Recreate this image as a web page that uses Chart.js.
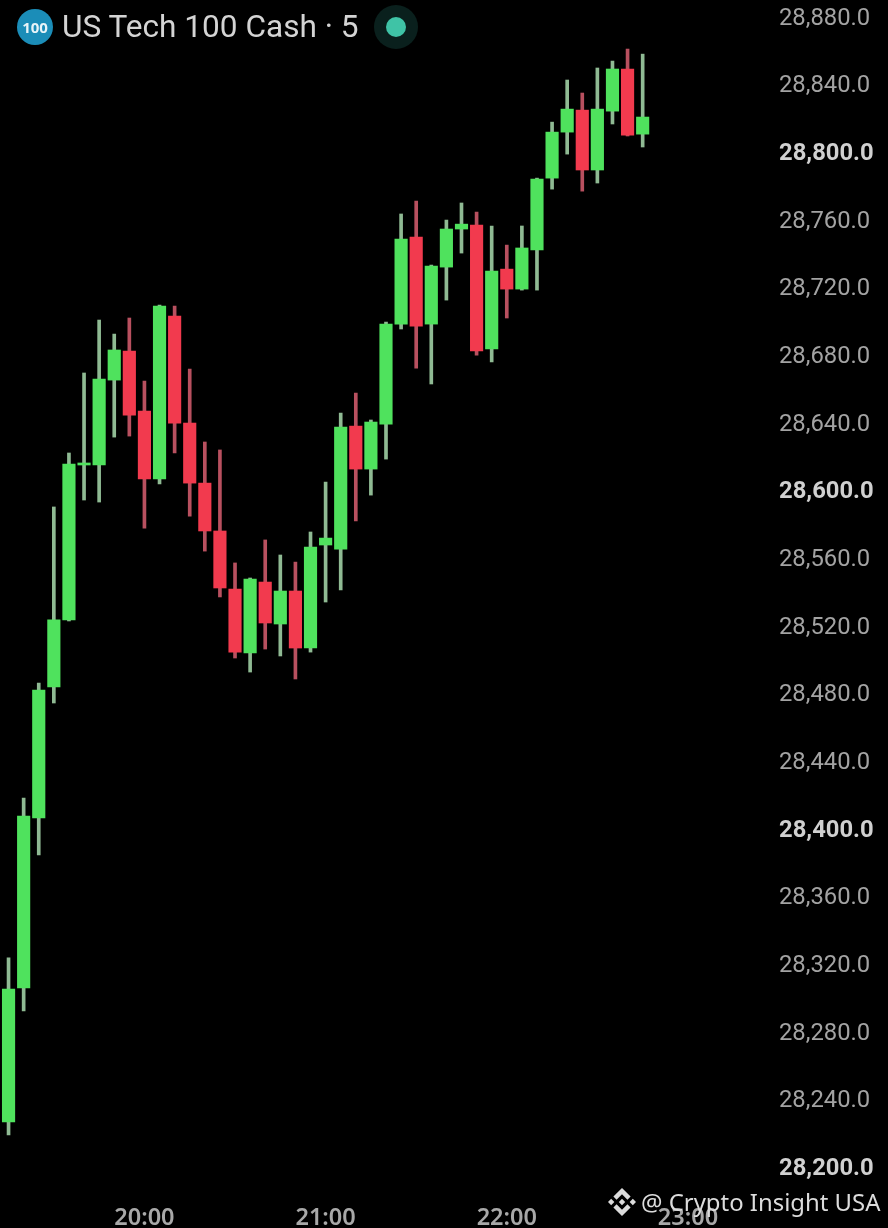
<!DOCTYPE html>
<html>
<head>
<meta charset="utf-8">
<title>US Tech 100 Cash</title>
<script src="https://cdn.jsdelivr.net/npm/chart.js@4"></script>
<style>
  html, body { margin: 0; padding: 0; background: #000; }
  body { position: relative; width: 888px; height: 1228px; overflow: hidden; }
  canvas { position: absolute; left: 0; top: 0; }
  .logo { position: absolute; left: 17px; top: 9px; width: 36px; height: 36px; border-radius: 50%; background: #1b8db8;
    color: #e8f4f8; font: bold 15px/36px "Noto Sans"; text-align: center; }
  .title { position: absolute; left: 62px; top: 8px; color: #d4d4d4; font: 31.6px/38px Roboto; white-space: nowrap; }
  .halo { position: absolute; left: 374px; top: 5px; width: 44px; height: 44px; border-radius: 50%; background: #0a201d; }
  .dot { position: absolute; left: 386px; top: 17px; width: 20px; height: 20px; border-radius: 50%; background: #3fc3a6; }
  .mark { position: absolute; left: 608px; top: 1188px; width: 28px; height: 28px; }
  .credit { position: absolute; left: 641px; top: 1186px; color: #dcdcdc; font: 23.9px/32px "Noto Sans"; white-space: nowrap; }
</style>
</head>
<body>
<canvas id="myChart" width="888" height="1228"></canvas>
<div class="logo">100</div>
<div class="title">US Tech 100 Cash · 5</div>
<div class="halo"></div>
<div class="dot"></div>
<svg class="mark" viewBox="0 0 126.61 126.61" fill="#dcdcdc">
  <path d="m38.73 53.2 24.59-24.58 24.6 24.6 14.3-14.31L63.32 0 24.43 38.9l14.3 14.3z"/>
  <path d="m0 63.31 14.3-14.31 14.31 14.31-14.31 14.3z"/>
  <path d="m38.73 73.41 24.59 24.59 24.6-24.6 14.31 14.29-38.9 38.91-38.91-38.88-.02-.02z"/>
  <path d="m98 63.31 14.3-14.31 14.31 14.3-14.31 14.32z"/>
  <path d="m77.83 63.3-14.51-14.52-10.73 10.73-1.24 1.23-2.54 2.54 14.51 14.5 14.51-14.47z"/>
</svg>
<div class="credit">@ Crypto Insight USA</div>

<script>
// 5 minute slots, the last ones are empty space up to the price axis
const labels = [
  "19:15","19:20","19:25","19:30","19:35","19:40","19:45","19:50","19:55",
  "20:00","20:05","20:10","20:15","20:20","20:25","20:30","20:35","20:40","20:45","20:50","20:55",
  "21:00","21:05","21:10","21:15","21:20","21:25","21:30","21:35","21:40","21:45","21:50","21:55",
  "22:00","22:05","22:10","22:15","22:20","22:25","22:30","22:35","22:40","22:45","22:50","22:55",
  "23:00","23:05","23:10","23:15","23:20","23:25"
];

const opens = [
  28226.6, 28305.8, 28406.3, 28483.8, 28523.4, 28615.0, 28615.0, 28665.2, 28682.4, 28646.9,
  28606.7, 28703.1, 28639.8, 28604.3, 28576.0, 28541.7, 28503.9, 28545.8, 28521.0, 28540.5,
  28506.8, 28567.7, 28565.3, 28638.0, 28612.6, 28639.2, 28698.3, 28749.8, 28698.3, 28732.0,
  28754.5, 28756.8, 28683.6, 28730.8, 28719.0, 28742.1, 28784.6, 28811.8, 28824.8, 28789.4,
  28824.2, 28849.1, 28810.6
];
const closes = [
  28305.2, 28407.5, 28482.0, 28523.4, 28615.6, 28616.2, 28665.8, 28683.0, 28644.5, 28606.7,
  28709.0, 28639.8, 28604.3, 28576.0, 28542.3, 28504.4, 28547.6, 28521.6, 28540.5, 28506.8,
  28566.5, 28571.8, 28637.4, 28612.6, 28640.4, 28698.3, 28748.6, 28697.1, 28732.6, 28754.5,
  28757.4, 28682.4, 28729.7, 28719.0, 28743.3, 28784.0, 28811.8, 28825.4, 28789.4, 28825.4,
  28849.1, 28810.0, 28820.7
];
const highs = [
  28323.6, 28418.1, 28486.1, 28590.2, 28622.1, 28669.4, 28700.7, 28692.4, 28701.9, 28664.6,
  28709.6, 28709.0, 28671.7, 28628.6, 28623.9, 28557.1, 28548.2, 28570.7, 28561.8, 28557.6,
  28575.4, 28604.9, 28645.7, 28657.5, 28641.6, 28699.5, 28763.4, 28771.0, 28733.2, 28759.8,
  28769.9, 28764.5, 28756.3, 28745.0, 28756.3, 28784.6, 28817.7, 28842.6, 28834.9, 28849.7,
  28853.8, 28860.9, 28857.9
];
const lows = [
  28218.9, 28292.2, 28384.5, 28474.3, 28522.8, 28594.3, 28593.1, 28631.5, 28632.1, 28577.7,
  28603.8, 28622.1, 28584.8, 28564.1, 28537.0, 28500.9, 28492.6, 28506.2, 28502.1, 28488.5,
  28504.4, 28534.0, 28541.1, 28581.9, 28597.2, 28618.5, 28695.4, 28672.3, 28662.9, 28712.5,
  28740.3, 28680.0, 28675.9, 28701.9, 28718.4, 28718.4, 28778.1, 28798.8, 28776.9, 28781.7,
  28816.6, 28809.5, 28803.0
];

const priceTicks = [
  28200, 28240, 28280, 28320, 28360, 28400, 28440, 28480, 28520,
  28560, 28600, 28640, 28680, 28720, 28760, 28800, 28840, 28880
];
const boldPrices = [28200, 28400, 28600, 28800];
const hourLabels = ["20:00", "21:00", "22:00", "23:00"];

const green = "#4fe25d";
const red = "#f23a4e";
const greenWick = "#8fba93";
const redWick = "#b8505f";

const isUp = (i) => closes[i] >= opens[i];
const isBold = (c) => c.tick && boldPrices.includes(c.tick.value);

new Chart(document.getElementById("myChart"), {
  type: "bar",
  data: {
    labels,
    datasets: [
      {
        label: "wick",
        data: lows.map((low, i) => [low, highs[i]]),
        backgroundColor: lows.map((_, i) => (isUp(i) ? greenWick : redWick)),
        barThickness: 3,
        grouped: false,
        order: 2,
      },
      {
        label: "body",
        data: opens.map((open, i) => [open, closes[i]]),
        backgroundColor: opens.map((_, i) => (isUp(i) ? green : red)),
        barThickness: 12.5,
        minBarLength: 2,
        grouped: false,
        order: 1,
      },
    ],
  },
  options: {
    responsive: false,
    animation: false,
    layout: { padding: { left: 1, right: 0, top: 0, bottom: 0 } },
    plugins: { legend: { display: false }, tooltip: { enabled: false } },
    scales: {
      x: {
        grid: { display: false, drawTicks: false },
        border: { display: false },
        // the plot runs to the canvas edges, so drop the room kept for edge labels
        afterFit(scale) {
          scale.height = 38;
          scale.paddingLeft = 0;
          scale.paddingRight = 0;
        },
        ticks: {
          autoSkip: false,
          maxRotation: 0,
          padding: 14,
          color: "#a8a8a8",
          font: { family: "Noto Sans", size: 23.5, weight: "600" },
          callback(value) {
            const text = labels[value];
            return hourLabels.includes(text) ? text : "";
          },
        },
      },
      y: {
        position: "right",
        min: 28186.4,
        max: 28889.9,
        grid: { display: false, drawTicks: false },
        border: { display: false },
        afterFit(scale) {
          scale.width = 117;
          scale.paddingTop = 0;
          scale.paddingBottom = 0;
        },
        afterBuildTicks(scale) {
          scale.ticks = priceTicks.map((value) => ({ value }));
        },
        ticks: {
          crossAlign: "near",
          padding: 8,
          labelOffset: 2,
          color: (c) => (isBold(c) ? "#d0d0d0" : "#a3a3a3"),
          font: (c) =>
            isBold(c)
              ? { family: "Roboto", size: 23.8, weight: "bold" }
              : { family: "Roboto", size: 23.8 },
          callback: (value) =>
            value.toLocaleString("en-US", { minimumFractionDigits: 1 }),
        },
      },
    },
  },
});
</script>
</body>
</html>
